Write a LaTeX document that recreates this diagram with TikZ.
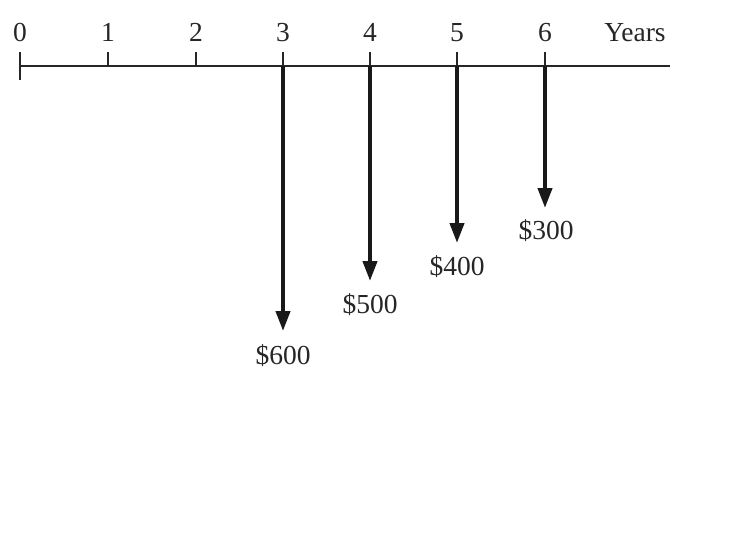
\documentclass[tikz,border=0pt]{standalone}
\usepackage{fontspec}
\setmainfont{Liberation Serif}
\usetikzlibrary{arrows.meta}
\begin{document}
\begin{tikzpicture}[x=1pt,y=-1pt,
  axisline/.style={line width=1.2pt,color=black!85},
  tickline/.style={line width=1.1pt,color=black!85},
  flow/.style={line width=4pt,color=black!90,-{Triangle[length=20pt,width=14pt]}},
  yearlbl/.style={font=\fontsize{27.5}{27.5}\selectfont,text=black!85,inner sep=0pt,anchor=base},
  amt/.style={font=\fontsize{27.5}{27.5}\selectfont,text=black!85,inner sep=0pt,anchor=base}]
\useasboundingbox (0,0) rectangle (750,550);
% axis
\coordinate (a0) at (20,66);
\coordinate (aend) at (670,66);
\draw[axisline] (a0) -- (aend);
% ticks and labels
\foreach \i/\x in {0/20,1/108,2/196,3/283,4/370,5/457,6/545}{
  \coordinate (t\i) at (\x,66);
  \coordinate (u\i) at (\x,52);
  \node[yearlbl] (y\i) at (\x,41) {\i};
}
\coordinate (d0) at (20,80);
\draw[tickline] (u0) -- (d0);
\foreach \i in {1,...,6}{\draw[tickline] (u\i) -- (t\i);}
\node[yearlbl] (years) at (635,41) {Years};
% cash flows
\coordinate (e3) at (283,331);
\coordinate (e4) at (370,281);
\coordinate (e5) at (457,243);
\coordinate (e6) at (545,208);
\draw[flow] (t3) -- (e3);
\draw[flow] (t4) -- (e4);
\draw[flow] (t5) -- (e5);
\draw[flow] (t6) -- (e6);
\node[amt] (v3) at (283,364) {\$600};
\node[amt] (v4) at (370,313) {\$500};
\node[amt] (v5) at (457,275) {\$400};
\node[amt] (v6) at (546,239) {\$300};
\end{tikzpicture}
\end{document}
